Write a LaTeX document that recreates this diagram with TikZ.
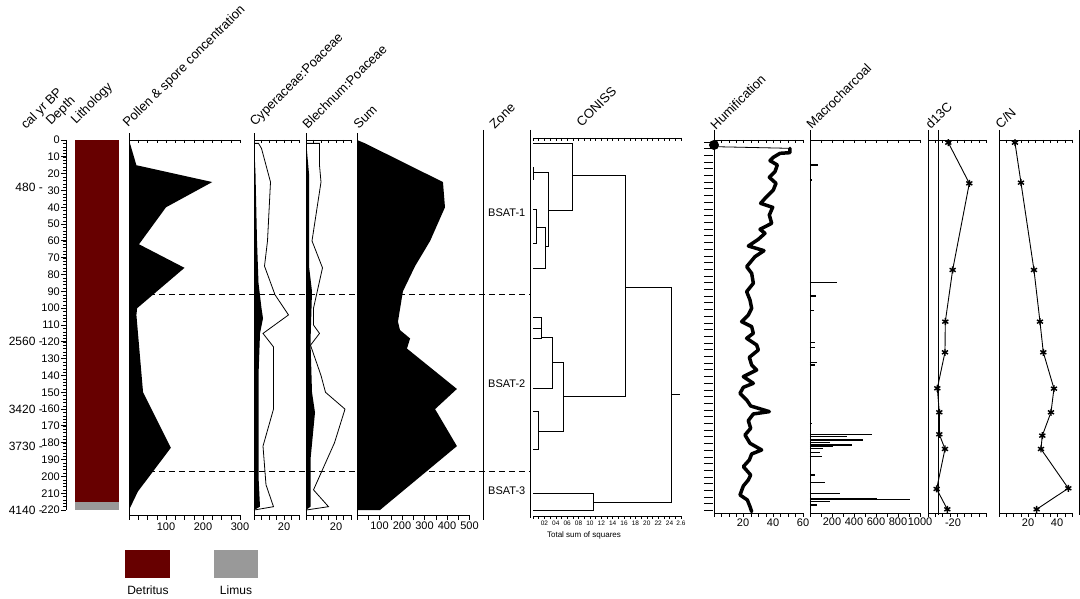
\documentclass[tikz,border=0pt]{standalone}
\usepackage{fontspec}
\usetikzlibrary{plotmarks}
\setmainfont{Liberation Sans}
\begin{document}
\begin{tikzpicture}[x=1pt,y=-1pt,
  hdr/.style={rotate=45,anchor=south west,inner sep=0pt,font=\fontsize{13}{13}\selectfont},
  num/.style={font=\fontsize{11}{11}\selectfont,inner sep=1pt},
  axis/.style={line width=0.9pt},
  zonedash/.style={dashed,dash pattern=on 6pt off 4pt,line width=0.9pt}]
\useasboundingbox (0,0) rectangle (1080,599);
\fill[white] (0,0) rectangle (1080,599);
% headers
\node[hdr] (h1) at (28,132) {cal yr BP};
\node[hdr] (h2) at (53,128) {Depth};
\node[hdr] (h3) at (78,127) {Lithology};
\node[hdr] (h4) at (130,130) {Pollen \& spore concentration};
\node[hdr] (h5) at (257,129) {Cyperaceae:Poaceae};
\node[hdr] (h6) at (308,130) {Blechnum:Poaceae};
\node[hdr] (h7) at (359,130) {Sum};
\node[hdr] (h8) at (495,130) {Zone};
\node[hdr] (h9) at (582,128) {CONISS};
\node[hdr] (h10) at (716,131) {Humification};
\node[hdr] (h11) at (812,130) {Macrocharcoal};
\node[hdr] (h12) at (931,130) {d13C};
\node[hdr] (h13) at (1001,130) {C/N};
% depth axis
\begin{scope}[shift={(0,140)},y=-1.682pt]
\draw[axis] (66,0) -- (66,220);
\foreach \d in {0,10,...,220} {\draw[axis] (61,\d) -- (66,\d); \node[num,anchor=east] at (61,\d) {\d};}
\foreach \d in {2,4,...,218} {\draw (63,\d) -- (66,\d);}
\foreach \d/\a in {28/480,120/2560,160/3420,182/3730,220/4140} {\node[num,anchor=east,font=\fontsize{12}{12}\selectfont] at (44,\d) {\a\ -};}
% lithology
\fill[fill=black!10!red!45!black] (75,0) rectangle (119,215);
\fill[black!40] (75,215) rectangle (119,220);
\end{scope}
% pollen
\begin{scope}[shift={(129,140)},x=0.37pt,y=-1.682pt]
\fill (0,0) -- (20,15) -- (225,25) -- (100,40) -- (27,62) -- (150,76) -- (22,100) -- (20,104) -- (38,150) -- (113,183) -- (24,209) -- (0,220) -- cycle;
\draw[axis] (0,-4) -- (0,225);
\draw[axis] (0,0) -- (300,0);
\draw[axis] (0,223) -- (300,223);
\foreach \v in {0,25,...,300} {\draw (\v,0) -- (\v,2); \draw (\v,223) -- (\v,226);}
\foreach \v in {100,200,300} {\node[num,anchor=north] at (\v,227) {\v};}
\end{scope}
% cyperaceae
\begin{scope}[shift={(254,140)},x=1.5pt,y=-1.682pt]
\fill (0,0) -- (1,20) -- (2,60) -- (3,85) -- (5,100) -- (6,106) -- (4,115) -- (3,140) -- (3,200) -- (4,218) -- (0,220) -- cycle;
\draw[line width=0.8pt] (0,2) -- (3,2) -- (5,5) -- (11,25) -- (9,60) -- (7,75) -- (14,92) -- (23,104) -- (6,115) -- (13,123) -- (13,160) -- (6,182) -- (8,205) -- (13,218) -- (0,220);
\draw[axis] (0,-4) -- (0,225);
\draw[axis] (0,0) -- (30,0);
\draw[axis] (0,223) -- (30,223);
\foreach \v in {0,5,...,30} {\draw (\v,0) -- (\v,2); \draw (\v,223) -- (\v,226);}
\node[num,anchor=north] at (20,227) {20};
\end{scope}
% blechnum
\begin{scope}[shift={(306,140)},x=1.5pt,y=-1.682pt]
\fill (0,0) -- (2,20) -- (2,75) -- (4,90) -- (3,120) -- (4,150) -- (6,162) -- (3,190) -- (3,218) -- (0,220) -- cycle;
\draw[line width=0.8pt] (0,2) -- (9,2) -- (9,15) -- (10,25) -- (4,60) -- (11,76) -- (5,100) -- (5,110) -- (9,115) -- (3,122) -- (10,140) -- (13,150) -- (26,160) -- (19,180) -- (5,208) -- (15,218) -- (0,220);
\draw[axis] (0,-4) -- (0,225);
\draw[axis] (0,0) -- (30,0);
\draw[axis] (0,223) -- (30,223);
\foreach \v in {0,5,...,30} {\draw (\v,0) -- (\v,2); \draw (\v,223) -- (\v,226);}
\node[num,anchor=north] at (20,227) {20};
\end{scope}
% sum
\begin{scope}[shift={(357,140)},x=0.225pt,y=-1.682pt]
\fill (0,0) -- (36,2) -- (382,25) -- (391,40) -- (325,60) -- (258,75) -- (204,90) -- (182,108) -- (191,113) -- (236,118) -- (222,124) -- (444,148) -- (347,160) -- (444,182) -- (102,220) -- (0,220) -- cycle;
\draw[axis] (0,-4) -- (0,225);
\draw[axis] (0,223) -- (500,223);
\foreach \v in {0,50,...,500} {\draw (\v,223) -- (\v,226);}
\foreach \v in {100,200,300,400,500} {\node[num,anchor=north,inner sep=0.2pt] at (\v,227) {\v};}
\end{scope}
% zone
\draw[axis] (483,130) -- (483,520);
\node[num,anchor=west] (z1) at (487,213) {BSAT-1};
\node[num,anchor=west] (z2) at (487,384) {BSAT-2};
\node[num,anchor=west] (z3) at (487,491) {BSAT-3};
\draw[zonedash] (129,294) -- (530,294);
\draw[zonedash] (129,471) -- (530,471);
% CONISS
\draw[axis] (530,130) -- (530,518);
\draw[axis] (533,138) -- (681,138);
\draw[axis] (533,516) -- (681,516);
\foreach \i in {0,...,26} {\draw (533+\i*5.69,138) -- (533+\i*5.69,141); \draw (533+\i*5.69,516) -- (533+\i*5.69,519);}
\foreach \i/\t in {1/02,2/04,3/06,4/08,5/10,6/12,7/14,8/16,9/18,10/20,11/22,12/24,13/2.6} {\node[inner sep=0pt,font=\fontsize{6.5}{6.5}\selectfont] at (533+\i*11.38,523) {\t};}
\node[inner sep=0pt,font=\fontsize{8}{8}\selectfont] (tss) at (584,535) {Total sum of squares};
\begin{scope}[line width=0.9pt]
\draw (533,143) -- (572,143) -- (572,210) -- (548,210);
\draw (572,175) -- (625,175) -- (625,396) -- (563,396);
\draw (533,172) -- (548,172) -- (548,246) -- (545,246);
\draw (533,167) -- (533,180);
\draw (545,227) -- (545,268) -- (533,268);
\draw (533,209) -- (536,209) -- (536,243) -- (533,243);
\draw (536,227) -- (545,227);
\draw (625,287) -- (671,287) -- (671,502) -- (593,502);
\draw (671,394) -- (680,394);
\draw (533,317) -- (541,317) -- (541,338) -- (533,338);
\draw (533,328) -- (541,328);
\draw (541,337) -- (552,337) -- (552,388) -- (533,388);
\draw (552,362) -- (563,362) -- (563,431) -- (538,431);
\draw (533,411) -- (538,411) -- (538,449) -- (533,449);
\draw (533,493) -- (593,493) -- (593,510) -- (533,510);
\end{scope}
% Humification
\draw[axis] (714,130) -- (714,515);
\draw[axis] (714,140) -- (803,140);
\draw[axis] (714,513) -- (803,513);
\foreach \i in {0,...,12} {\draw (714+\i*7.4,140) -- (714+\i*7.4,143); \draw (714+\i*7.4,513) -- (714+\i*7.4,517);}
\foreach \i in {0,...,55} {\draw[line width=0.8pt] (704,142+\i*6.7) -- (713,142+\i*6.7);}
\node[num,anchor=north] at (743,518) {20};
\node[num,anchor=north] at (773,518) {40};
\node[num,anchor=north] at (803,518) {60};
\begin{scope}[shift={(690,100)},x=0.3333pt,y=-0.3333pt]
\fill (72,135) circle (5pt);
\draw[line width=0.8pt] (72,140) -- (300,145);
\draw[line width=3.5pt,line join=round,line cap=round] plot coordinates {(300,145) (300,158) (270,160) (250,172) (240,182) (262,195) (255,215) (238,232) (258,250) (250,270) (228,292) (212,310) (248,322) (238,345) (245,370) (210,388) (225,400) (205,418) (175,438) (222,452) (195,470) (170,500) (185,520) (190,550) (170,575) (180,600) (185,625) (175,645) (155,665) (185,680) (190,700) (170,715) (200,735) (205,750) (178,772) (185,795) (200,810) (160,830) (190,850) (160,862) (150,880) (170,900) (182,918) (238,935) (190,942) (175,962) (182,985) (165,1005) (180,1030) (215,1050) (185,1062) (178,1080) (160,1100) (182,1125) (175,1140) (160,1158) (150,1185) (172,1200) (180,1220) (185,1235)};
% macrocharcoal bars
\foreach \xe/\yy in {385/195,365/240,440/548,378/588,372/632,375/728,375/742,380/788,375/795,365/970,545/1003,520/1020,485/1035,420/1028,400/1045,395/1070,375/1125,405/1148,450/1180,560/1195,660/1198,420/1205,380/1215,470/1010,430/1040,390/1058}
  {\draw[line width=1.1pt] (360,\yy) -- (\xe,\yy);}
\draw[line width=0.9pt] plot[mark=asterisk,mark size=3.5pt,mark options={line width=1.4pt}] coordinates {(775,128) (838,250) (788,510) (766,665) (765,757) (742,865) (748,937) (748,1003) (765,1047) (740,1167) (772,1228)};
\draw[line width=0.9pt] plot[mark=asterisk,mark size=3.5pt,mark options={line width=1.4pt}] coordinates {(975,128) (993,248) (1032,510) (1050,665) (1060,757) (1092,866) (1083,937) (1057,1007) (1053,1047) (1135,1165) (1040,1228)};
\end{scope}
% macro axes
\draw[axis] (810,130) -- (810,515);
\draw[axis] (810,140) -- (921,140);
\draw[axis] (810,513) -- (921,513);
\foreach \i in {0,...,10} {\draw (810+\i*11,140) -- (810+\i*11,143); \draw (810+\i*11,513) -- (810+\i*11,517);}
\foreach \v in {200,400,600,800,1000} {\node[num,anchor=north,inner sep=0pt] at (810+\v*0.11,518) {\v};}
% d13C
\draw[axis] (928,130) -- (928,515);
\draw[axis] (938,130) -- (938,515);
\draw[axis] (928,140) -- (986,140);
\draw[axis] (928,513) -- (986,513);
\foreach \i in {0,...,8} {\draw (928+\i*7.25,140) -- (928+\i*7.25,143); \draw (928+\i*7.25,513) -- (928+\i*7.25,517);}
\node[num,anchor=north] at (953,518) {-20};
% C/N
\draw[axis] (999,130) -- (999,515);
\draw[axis] (999,140) -- (1072,140);
\draw[axis] (999,513) -- (1072,513);
\foreach \i in {0,...,10} {\draw (999+\i*7.3,140) -- (999+\i*7.3,143); \draw (999+\i*7.3,513) -- (999+\i*7.3,517);}
\node[num,anchor=north] at (1028,518) {20};
\node[num,anchor=north] at (1057,518) {40};
\draw[axis] (1079,130) -- (1079,515);
% legend
\fill[fill=black!10!red!45!black] (125,550) rectangle (170,578);
\fill[black!40] (214,550) rectangle (258,578);
\node[num,font=\fontsize{12}{12}\selectfont] (ld) at (148,590) {Detritus};
\node[num,font=\fontsize{12}{12}\selectfont] (ll) at (236,590) {Limus};
\end{tikzpicture}
\end{document}
